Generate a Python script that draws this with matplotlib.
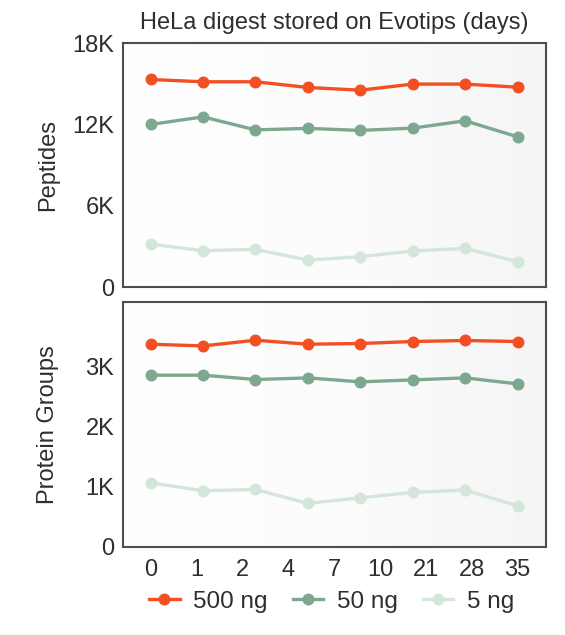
import numpy as np
import matplotlib.pyplot as plt
from matplotlib.colors import LinearSegmentedColormap

plt.rcParams['font.family'] = ['Liberation Sans', 'DejaVu Sans']

day_labels = ["0", "1", "2", "4", "7", "10", "21", "28", "35"]
series_names = ["500 ng", "50 ng", "5 ng"]
colors = ["#F25022", "#7DA88F", "#D4E5DA"]

peptides_500 = [15320, 15150, 15150, 14730, 14530, 14980, 14980, 14750]
peptides_50 = [12000, 12560, 11600, 11710, 11560, 11730, 12270, 11090]
peptides_5 = [3170, 2680, 2780, 1990, 2240, 2660, 2850, 1870]

proteins_500 = [3363, 3335, 3430, 3363, 3375, 3408, 3425, 3408]
proteins_50 = [2849, 2849, 2777, 2804, 2738, 2771, 2804, 2705]
proteins_5 = [1062, 929, 952, 720, 813, 903, 941, 680]

text_col = "#2e2e2e"
x = np.arange(len(peptides_500))

fig = plt.figure(figsize=(5.65, 6.35), dpi=100)
ax1 = fig.add_axes([0.217, 0.548, 0.750, 0.384])
ax2 = fig.add_axes([0.217, 0.139, 0.750, 0.385])

# soft left-to-right grey wash behind the lines
bg = LinearSegmentedColormap.from_list("bg", ["#ffffff", "#fcfcfc", "#f5f5f5"])
grad = np.linspace(0, 1, 256).reshape(1, -1)

def style_axis(ax, data, ylim, yticks, yticklabels, ylabel):
    ax.imshow(grad, cmap=bg, aspect="auto", extent=[0, 1, 0, 1],
              transform=ax.transAxes, zorder=0)
    for vals, c, name in zip(data, colors, series_names):
        ax.plot(x, vals, "-o", color=c, lw=2.4, ms=7.6, label=name, zorder=3)
    ax.set_xlim(-0.535, 7.55)
    ax.set_ylim(*ylim)
    ax.set_yticks(yticks)
    ax.set_yticklabels(yticklabels)
    ax.set_ylabel(ylabel, fontsize=17, color=text_col)
    ax.yaxis.set_label_coords(-0.15, 0.5)
    ax.tick_params(axis="y", length=0, labelsize=17, labelcolor=text_col, pad=6)
    ax.tick_params(axis="x", length=0, labelsize=17, labelcolor=text_col, pad=9)
    for s in ax.spines.values():
        s.set_color("#4d4d4d")
        s.set_linewidth(1.5)

style_axis(ax1, [peptides_500, peptides_50, peptides_5], (0, 18000),
           [0, 6000, 12000, 18000], ["0", "6K", "12K", "18K"], "Peptides")
ax1.set_xticks([])
ax1.set_title("HeLa digest stored on Evotips (days)", fontsize=17,
              color=text_col, pad=10)

style_axis(ax2, [proteins_500, proteins_50, proteins_5], (0, 4060),
           [0, 1000, 2000, 3000], ["0", "1K", "2K", "3K"], "Protein Groups")
ax2.set_xticks(np.linspace(0, 7, len(day_labels)))
ax2.set_xticklabels(day_labels)

handles, labels = ax2.get_legend_handles_labels()
fig.legend(handles, labels, loc="center", bbox_to_anchor=(0.587, 0.052),
           ncol=3, frameon=False, fontsize=17.5, handlelength=1.25,
           columnspacing=1.05, handletextpad=0.55, labelcolor=text_col)

fig.savefig("out.png", dpi=100)
